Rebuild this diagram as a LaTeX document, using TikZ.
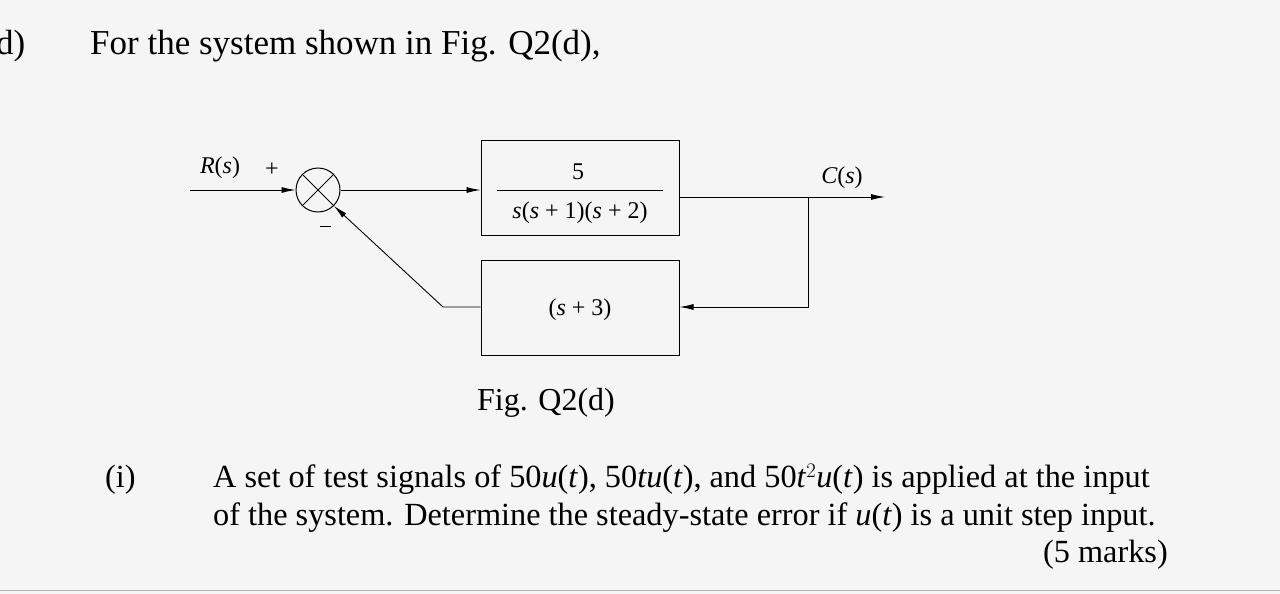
\documentclass[tikz,border=0pt]{standalone}
\usepackage{fontspec}
\setmainfont{Liberation Serif}
\usetikzlibrary{arrows.meta}
\begin{document}
\begin{tikzpicture}[x=1pt,y=-1pt,
  blk/.style={draw,line width=1pt,minimum width=198pt,minimum height=95pt,inner sep=0pt},
  wire/.style={line width=0.9pt},
  arr/.style={wire,-{Latex[length=14pt,width=6pt]}},
  big/.style={font=\fontsize{35}{40}\selectfont,anchor=base west,inner sep=0pt},
  para/.style={font=\fontsize{32.3}{36}\selectfont,anchor=base west,inner sep=0pt},
  mid/.style={font=\fontsize{24}{28}\selectfont,inner sep=0pt}]
\useasboundingbox (0,0) rectangle (1280,594);
\fill[white!92!gray] (0,0) rectangle (1280,594);
\node[big] (d) at (-4,55) {d)};
\node[big] (t) at (90,55) {For the system shown in Fig. Q2(d),};
\node[mid] (R) at (220,168) {\itshape R\upshape(\itshape s\upshape)};
\node[mid] (p) at (272,170) {+};
\node[mid] (m) at (325,226) {\rule{11pt}{0.8pt}};
\node[draw,circle,line width=1pt,minimum size=44pt,inner sep=0pt] (S) at (318,190) {};
\draw[line width=1pt] (S.north east)--(S.south west) (S.north west)--(S.south east);
\coordinate (in) at (190,190);
\draw[arr] (in) -- (S.west);
\node[blk] (G) at (580,188) {};
\node[mid] (n5) at (578,172) {5};
\draw[wire] (497,190) -- (663,190);
\node[mid] (den) at (580,213) {\itshape s\upshape(\itshape s\upshape{} + 1)(\itshape s\upshape{} + 2)};
\draw[arr] (S.east) -- (G.west|-S.east);
\node[blk] (H) at (580,308) {};
\node[mid] (h) at (580,310) {(\itshape s\upshape{} + 3)};
\coordinate (out) at (885,197);
\coordinate (pk) at (808,197);
\draw[arr] (G.east|-out) -- (out);
\node[mid] (C) at (842,178) {\itshape C\upshape(\itshape s\upshape)};
\draw[arr] (pk) -- (808,307) -- (H.east|-0,307);
\coordinate (k) at (443,307);
\draw[arr] (H.west|-0,307) -- (k) -- (S.south east);
\node[font=\fontsize{32}{36}\selectfont,inner sep=0pt] (f) at (546,403) {Fig. Q2(d)};
\node[para] (i) at (105,487) {(i)};
\node[para] (l1) at (213,487) {A set of test signals of 50\textit{u}(\textit{t}), 50\textit{tu}(\textit{t}), and 50\textit{t}$^2$\textit{u}(\textit{t}) is applied at the input};
\node[para] (l2) at (213,525) {of the system. Determine the steady-state error if \textit{u}(\textit{t}) is a unit step input.};
\node[para,anchor=base east] (mk) at (1168,562) {(5 marks)};
\draw[gray!60,line width=1pt] (0,590) -- (1280,590);
\end{tikzpicture}
\end{document}
